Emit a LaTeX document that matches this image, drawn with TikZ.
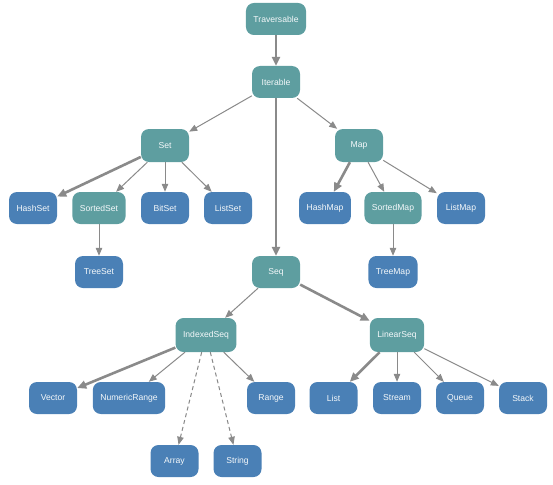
\documentclass[tikz,border=0pt]{standalone}
\usepackage{fontspec}
\setmainfont{Liberation Sans}
\usetikzlibrary{arrows.meta}
\definecolor{tealbox}{HTML}{5E9EA0}
\definecolor{bluebox}{HTML}{4A80B6}
\definecolor{edgegray}{HTML}{8A8A8A}
\definecolor{textwhite}{HTML}{F4F8FA}
\tikzset{
  basebox/.style={rounded corners=8pt, minimum height=32pt, minimum width=48pt,
    inner xsep=7.5pt, inner ysep=0pt, text=textwhite,
    font=\fontsize{8.6pt}{9pt}\selectfont},
  tbox/.style={basebox, fill=tealbox},
  bbox/.style={basebox, fill=bluebox},
  thin/.style={draw=edgegray, line width=1pt, -{Triangle[length=8pt,width=6.5pt]}},
  thick/.style={draw=edgegray, line width=2.6pt, -{Triangle[length=9pt,width=8pt]}},
  dashedge/.style={thin, dashed, dash pattern=on 4pt off 3pt}
}
\begin{document}
\begin{tikzpicture}[x=1pt,y=-1pt]
\useasboundingbox (0,0) rectangle (553,484);
\node[tbox] (trav) at (276,19) {Traversable};
\node[tbox] (iter) at (276,82) {Iterable};
\node[tbox, minimum height=33pt] (set) at (165,145.5) {Set};
\node[tbox, minimum height=33pt] (map) at (359,145.5) {Map};
\node[bbox] (hashset) at (33,208) {HashSet};
\node[tbox] (sortedset) at (99,208) {SortedSet};
\node[bbox] (bitset) at (165,208) {BitSet};
\node[bbox] (listset) at (228,208) {ListSet};
\node[bbox] (treeset) at (99,272) {TreeSet};
\node[tbox] (seq) at (276,272) {Seq};
\node[bbox] (hashmap) at (325,208) {HashMap};
\node[tbox] (sortedmap) at (393,208) {SortedMap};
\node[bbox] (listmap) at (461,208) {ListMap};
\node[bbox] (treemap) at (393,272) {TreeMap};
\node[tbox, minimum height=34pt] (indexed) at (206,335) {IndexedSeq};
\node[tbox, minimum height=34pt] (linear) at (397,335) {LinearSeq};
\node[bbox] (vector) at (53,398) {Vector};
\node[bbox] (numrange) at (129,398) {NumericRange};
\node[bbox] (range) at (271,398) {Range};
\node[bbox] (array) at (174.5,461) {Array};
\node[bbox] (string) at (237.5,461) {String};
\node[bbox] (list) at (333.5,398) {List};
\node[bbox] (stream) at (397,398) {Stream};
\node[bbox] (queue) at (460,398) {Queue};
\node[bbox] (stack) at (523,398) {Stack};

\draw[thick] (trav) -- (iter);
\draw[thin] (iter) -- (set);
\draw[thin] (iter) -- (map);
\draw[thick] (iter) -- (seq);
\draw[thick] (set) -- (hashset);
\draw[thin] (set) -- (sortedset);
\draw[thin] (set) -- (bitset);
\draw[thin] (set) -- (listset);
\draw[thin] (sortedset) -- (treeset);
\draw[thick] (map) -- (hashmap);
\draw[thin] (map) -- (sortedmap);
\draw[thin] (map) -- (listmap);
\draw[thin] (sortedmap) -- (treemap);
\draw[thin] (seq) -- (indexed);
\draw[thick] (seq) -- (linear);
\draw[thick] (indexed) -- (vector);
\draw[thin] (indexed) -- (numrange);
\draw[dashedge] (indexed) -- (array);
\draw[dashedge] (indexed) -- (string);
\draw[thin] (indexed) -- (range);
\draw[thick] (linear) -- (list);
\draw[thin] (linear) -- (stream);
\draw[thin] (linear) -- (queue);
\draw[thin] (linear) -- (stack);
\end{tikzpicture}
\end{document}
